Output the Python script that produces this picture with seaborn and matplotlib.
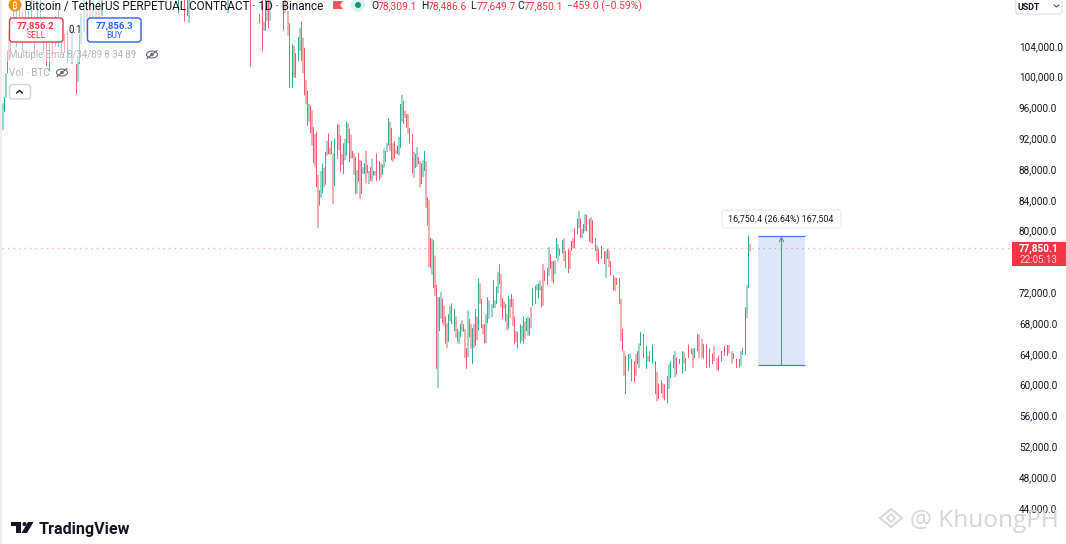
import numpy as np
import pandas as pd
import matplotlib
matplotlib.use("Agg")
import matplotlib.pyplot as plt
import seaborn as sns
from matplotlib.patches import Circle, Ellipse, FancyBboxPatch, Polygon, Rectangle
from matplotlib.lines import Line2D
from matplotlib.transforms import Affine2D, ScaledTranslation

# daily candles, prices in thousands of USDT
days_top = [0, 1, 2, 3, 4, 5, 7, 9, 11, 13,
            15, 17, 19, 21, 23, 25, 27, 29, 31, 33,
            35, 37, 39, 41, 43, 46, 49, 50, 51, 52,
            54, 56, 58, 60, 62, 64, 66, 117, 121, 123,
            124, 150, 165, 171, 173, 174, 175, 176, 177, 178,
            187, 188, 190, 191, 193, 194, 195, 197, 198, 199,
            200, 201, 202]
highs_top = [96.7, 97.5, 100.6, 103.5, 106.1, 108, 110.5, 109, 110.5, 108.5,
             110.5, 109, 110.5, 108, 109.5, 110.5, 108, 106, 104.4, 107,
             108, 109, 105.7, 105.7, 106, 106.4, 101.8, 102.6, 105.7, 108.3,
             110.5, 109.5, 110.5, 110.5, 109, 110.5, 110.5, 110.5, 110.5, 110.5,
             110.5, 110.5, 110.5, 108.3, 110.5, 107.3, 110.5, 110.5, 110.5, 110.5,
             109.4, 110.5, 108.7, 107.1, 104.4, 104.2, 103.2, 105.3, 106.5, 107.3,
             105.2, 103.9, 99.7]
lows_top = [93.2, 95.6, 97.4, 100.6, 102.2, 103.5, 105.5, 104, 106, 103.5,
            105, 104.5, 105.8, 103, 104.8, 106, 103.2, 101.5, 100.9, 103,
            104, 104, 103.2, 103.2, 102, 101.8, 97.9, 99.5, 101.8, 104.4,
            106, 105.5, 106.5, 107, 105, 106.9, 108, 108.4, 107.3, 108,
            107.1, 108.4, 101.4, 107.1, 103.4, 106.1, 106.1, 107.4, 106.4, 107.4,
            106.1, 108.4, 105.5, 98.7, 98.7, 100, 100, 102.2, 103.5, 102.2,
            100.6, 97.7, 96.6]
sides_top = ("uuuudududd" "dudddudddd" "uudduuduuu" "uddudduudu"
             "uuddduuudu" "dddduduuud" "ddd")

skipped_days = [222, 250, 272, 300, 325]
days_mid = [d for d in range(203, 344) if d not in skipped_days]
highs_mid = [98.3, 96.6, 96.4, 95.8, 93.6, 92.7, 93, 87.4, 85.4, 87.9,
             88.9, 88.3, 90.4, 91.8, 92.8, 90.9, 91.8, 90.2, 92.1, 94,
             93.9, 92.5, 90.1, 91.5, 92.1, 94.3, 94.1, 93.4, 92.6, 90.5,
             90.2, 89.7, 88, 90.2, 89.3, 89.2, 88.4, 88.9, 90.5, 88.7,
             87.9, 88.4, 89.5, 87.9, 87.9, 90.2, 89.2, 88.9, 88.7, 90.8,
             90.5, 91.5, 94.7, 94.3, 93.5, 91.5, 91.8, 90.6, 91.2, 92.3,
             96.6, 97.8, 97, 95.7, 95.3, 95.3, 93.5, 92.7, 90.4, 90.1,
             91, 89.7, 89.2, 88.9, 89.3, 90.5, 89.2, 84.5, 84.1, 79.2,
             79.1, 78.9, 76.9, 73.1, 71.5, 71.5, 72.2, 71.3, 70.4, 69,
             68.1, 69.3, 70.4, 70.7, 70, 69, 67.4, 67.1, 68.1, 68.5,
             68, 67.4, 64.9, 69.8, 68.7, 68, 67.5, 68, 70, 69,
             73.9, 73.3, 71.3, 68, 68, 69.3, 71.5, 71.1, 70.6, 73.7,
             71.1, 72.9, 74.8, 75.8, 74.5, 71.4, 71, 70.7, 69.3, 71.7,
             71.3, 71.9, 71.3, 69, 67.1, 67]
lows_mid = [93.8, 94.3, 92.8, 91.2, 88.9, 88.4, 85.8, 80.5, 83.4, 84.4,
            85, 85.8, 86.1, 89.9, 90.1, 90, 90.1, 83.6, 86, 89.5,
            90.6, 87.8, 88.7, 87.5, 89.3, 89.9, 91.5, 89.1, 89.5, 89.6,
            87.4, 84.9, 85, 86.5, 84.3, 84.9, 87.5, 87.5, 86.3, 87.6,
            86.2, 86.6, 86.5, 87.3, 87.3, 86.6, 86.7, 87, 87.4, 88.3,
            89.1, 90.4, 91.2, 90.5, 89.3, 89.1, 89.5, 90.1, 90.1, 89.9,
            90.9, 94.3, 94, 94.8, 93.5, 92.8, 91.5, 87.6, 87, 88.3,
            88.4, 88.8, 85.8, 86.2, 87.1, 87.9, 83.1, 80.8, 75.4, 75.3,
            74.4, 72.7, 71.7, 62.2, 59.7, 67.1, 68.7, 68.1, 67.8, 65.5,
            64.9, 65.7, 68.4, 68, 67.1, 66.3, 65.7, 65.4, 66.3, 67.1,
            67, 63.6, 62.2, 63.7, 66.3, 64.8, 62.8, 64.9, 65.2, 65.9,
            67.2, 70.6, 67.5, 66.7, 65.5, 65.5, 68.1, 68.7, 68.9, 70.1,
            70.1, 70.6, 72, 73.2, 70.2, 68.7, 70.1, 68.4, 67.2, 67.4,
            68.8, 70.2, 67.8, 65.4, 65.7, 64.8]
sides_mid = ("dudduddddu" "uduudddduu" "ddduuududd" "ddudduuudd" "uduuududuu"
             "uuuddddduu" "uudddddduu" "udduuudddd" "uddduuuddd" "duududduud"
             "ddduddudud" "udddduuuuu" "uuuddddddu" "dudddd")

days_end = [345, 346, 347, 348, 349, 350, 351, 352, 353, 355,
            356, 357, 358, 359, 360, 361, 363, 364, 365, 366,
            367, 368, 369, 370, 371, 373, 374, 375, 377, 378,
            379, 380, 381, 383, 384, 385, 386, 387, 388, 389,
            391, 392, 393, 395, 396, 397, 399, 401, 402, 403,
            404, 405, 407, 408, 409,
            411, 412, 413, 414, 415, 417, 418, 419, 421, 422,
            423, 424, 425, 427, 429, 430, 431, 433, 435, 436,
            437, 439, 440, 441, 443, 444, 445, 447, 448, 449,
            451, 453, 454, 455, 457, 459, 460, 461, 463, 464,
            466, 467, 469, 471, 473, 474, 476, 477, 479, 481,
            483, 484, 486, 487, 489, 491, 492, 493, 495, 496,
            497, 498]
highs_end = [68, 67.8, 69, 68.4, 68.8, 69, 68.8, 70.2, 72.7, 73,
             73.2, 73.3, 73.6, 73, 75.8, 75, 75.3, 78, 77.1, 76.2,
             76.2, 76.3, 79.2, 78.4, 77.8, 78.9, 79.2, 77.5, 77.8, 77.6,
             78.8, 79.2, 80.5, 81.7, 82.7, 81.7, 80.4, 81, 82.3, 82.2,
             81.7, 81.9, 81.5, 79.2, 78.2, 77.8, 78.2, 77.5, 77.5, 77.8,
             77.6, 76.2, 74.4, 74.1, 74,
             74, 71.3, 67.4, 64.5, 63.9, 64.1, 64.2, 63.5, 63.2, 64.1,
             64.5, 65.5, 67, 66.7, 65.2, 63.9, 64.5, 65.4, 63.2, 61.8,
             60.3, 60.7, 60.3, 60.2, 61.3, 62.8, 63.2, 64, 64.5, 63.7,
             63.5, 64.5, 64.4, 63.6, 65.4, 64.8, 64.9, 64.9, 66.7, 66.7,
             66.1, 65.4, 65.4, 64.8, 64.2, 65.2, 63.6, 63.9, 64.5, 65.2,
             65.3, 65.3, 64.5, 64.2, 63.5, 63.5, 64.5, 64.9, 70.2, 73.1,
             79.5, 78.4]
lows_end = [65.5, 65.8, 65.5, 66.1, 67.1, 66.5, 66.5, 67.5, 70.4, 70.6,
            72.4, 71.3, 72.4, 70.2, 70.4, 73.6, 73.1, 74.3, 75.2, 73.6,
            73.3, 74.5, 76.6, 76.2, 76.9, 77.2, 76.2, 75.3, 74.6, 75.2,
            77.5, 77.8, 77.9, 79.7, 80.5, 79.2, 79.2, 79.8, 80.1, 80.1,
            78.7, 78.5, 78.5, 77.5, 76.2, 75.8, 76.5, 75.8, 74, 76.5,
            75.4, 74.3, 72.4, 72.3, 73.1,
            70.6, 65.8, 64.5, 61.3, 58.9, 61.9, 63.5, 60.6, 60.5, 61.3,
            62.8, 62.3, 65.2, 63.6, 62.2, 63.2, 63.1, 62.9, 58.9, 58,
            58.3, 59, 58.4, 58.1, 57.7, 59.6, 61, 62.3, 61.1, 61.5,
            62.8, 61.6, 62.9, 61.9, 63.6, 64.1, 62.3, 63.6, 64.5, 63.6,
            63.6, 63.5, 62.3, 62.4, 62.8, 63.2, 62, 62, 63.2, 63.9,
            63.9, 64.2, 62.9, 63.5, 62.3, 62.4, 62.6, 64, 64, 68.8,
            72.7, 77.5]
sides_end = ("uudduuudud" "uuuddduudd" "duuuuudddd" "udduuduuud" "ddddddudud" "ddddd"
             "ddddduuddd" "uuududdudd" "dudduuuuud" "uuddduduud" "ddduddddud"
             "uddudduuuu" "ud")

price_ticks = [44000, 48000, 52000, 56000, 60000, 64000, 68000, 72000,
               80000, 84000, 88000, 92000, 96000, 100000, 104000]
last_price = 77850.1
range_low = 62700
range_high = 79450
range_days = [503.3, 534.7]

green = "#089981"
red = "#F23645"
blue = "#2962FF"
ink = "#131722"

days = days_top + days_mid + days_end
highs = np.array(highs_top + highs_mid + highs_end) * 1000
lows = np.array(lows_top + lows_mid + lows_end) * 1000
sides = list(sides_top + sides_mid + sides_end)

candles = pd.DataFrame({"candle": range(len(days)), "day": days, "side": sides,
                        "high": highs, "low": lows})
candles = candles.melt(id_vars=["candle", "day", "side"], value_vars=["high", "low"],
                       value_name="price")

sns.set_theme(style="white")
plt.rcParams["font.family"] = ["Roboto", "Noto Sans", "DejaVu Sans"]

W, H = 1066, 544
fig = plt.figure(figsize=(W / 100, H / 100), dpi=100)
ax = fig.add_axes([2 / W, 0, 1010 / W, 1])
pix = Affine2D().scale(1 / W, -1 / H).translate(0, 1) + fig.transFigure

sns.lineplot(data=candles, x="day", y="price", hue="side", units="candle", estimator=None,
             palette={"u": green, "d": red}, legend=False, linewidth=0.68, alpha=0.85,
             solid_capstyle="butt", snap=False, ax=ax)

ax.set_xlim(-0.67, 672.67)
ax.set_ylim(104000 + (47 - 544) * 129.87, 104000 + 47 * 129.87)
ax.set_xlabel("")
ax.set_ylabel("")
ax.set_xticks([])
ax.yaxis.tick_right()
ax.set_yticks(price_ticks)
ax.set_yticklabels([f"{p:,.1f}" for p in price_ticks], fontsize=7.2, color=ink,
                   va="center_baseline")
ax.tick_params(axis="y", length=0, pad=5)
for tick_label in ax.get_yticklabels():
    tick_label.set_transform(tick_label.get_transform() + ScaledTranslation(0, 1.2 / 100, fig.dpi_scale_trans))
sns.despine(ax=ax, left=True, right=True, top=True, bottom=True)

# last price line and measured range
ax.axhline(last_price, color=red, alpha=0.4, lw=1, ls=(0, (1, 3)))
ax.fill_between(range_days, range_low, range_high, color="#DDE6FB", lw=0, zorder=1)
ax.hlines([range_low, range_high], range_days[0], range_days[1], color=blue, lw=0.9, alpha=0.85, zorder=3)
ax.annotate("", xy=(np.mean(range_days), range_high), xytext=(np.mean(range_days), range_low),
            arrowprops=dict(arrowstyle="->", color="#5B84F5", lw=0.8, shrinkA=0, shrinkB=0,
                            mutation_scale=8), zorder=3)


def box(x0, y0, x1, y1, face="white", edge="none", lw=1, r=3, alpha=None):
    fig.add_artist(FancyBboxPatch((x0, y0), x1 - x0, y1 - y0, boxstyle=f"round,pad=0,rounding_size={r}",
                                  fc=face, ec=edge, lw=lw, alpha=alpha, transform=pix))


def label(x, y, s, size=7.4, color=ink, ha="left", **kw):
    fig.text(x, y, s, fontsize=size, color=color, ha=ha, va="center_baseline", transform=pix, **kw)


def eye(x, y):
    fig.add_artist(Ellipse((x, y), 11, 7, fc="none", ec="#6A6D78", lw=0.8, transform=pix))
    fig.add_artist(Circle((x, y), 1.8, fc="#6A6D78", ec="none", transform=pix))
    fig.add_artist(Line2D([x - 5, x + 5], [y + 4, y - 4], color="#6A6D78", lw=0.9, transform=pix))


# left strip and faded area behind the legend
fig.add_artist(Rectangle((0, 0), 2, H, fc="#EEEEEE", ec="none", transform=pix))
fig.add_artist(Rectangle((2, 0), 98, 62, fc="white", alpha=0.5, ec="none", transform=pix))

# header
fig.add_artist(Circle((15, 5), 6.5, fc="#F7931A", ec="none", transform=pix))
label(15, 5, "₿", size=7, color="white", ha="center", family=["Noto Sans", "Open Sans", "Roboto", "Lato", "Inter"])
label(25, 5, "Bitcoin / TetherUS PERPETUAL CONTRACT · 1D · Binance", size=8.45)
fig.add_artist(Polygon([(333, 1), (343, 1), (340, 5), (343, 9), (333, 9)], fc="#F7525F", ec="none", transform=pix))
fig.add_artist(Circle((358, 5), 7, fc="#DCEFEC", ec="none", transform=pix))
fig.add_artist(Circle((358, 5), 3, fc=green, ec="none", transform=pix))
for x, letter, value in [(371, "O", "78,309.1"), (421, "H", "78,486.6"),
                         (470, "L", "77,649.7"), (517, "C", "77,850.1")]:
    label(x, 5, letter, size=7.4)
    label(x + 6.5, 5, value, size=7.4, color=red)
label(567, 5, "−459.0 (−0.59%)", size=7.4, color=red)

# sell / buy buttons
box(9.5, 18, 63, 42, edge=red)
label(36, 25, "77,856.2", size=6.8, color=red, ha="center", fontweight="bold")
label(36, 35, "SELL", size=6.2, color=red, ha="center")
box(87.5, 18, 141, 42, edge=blue)
label(114, 25, "77,856.3", size=6.8, color=blue, ha="center", fontweight="bold")
label(114, 35, "BUY", size=6.2, color=blue, ha="center")
label(75, 29, "0.1", size=7, ha="center")

# indicator legend
label(9, 54, "Multiple Ema 8/34/89 8 34 89", size=6.95, color="#B2B5BE")
eye(152, 54.5)
label(9, 72, "Vol · BTC", size=7.2, color="#B2B5BE")
eye(62, 72.5)
box(9.5, 84.5, 30.5, 99, edge="#D1D4DC")
fig.add_artist(Line2D([16.5, 19.5, 22.5], [93, 90.5, 93], color=ink, lw=1, transform=pix))

# range label
box(722, 210, 841, 228, edge="#EFEFF2")
label(781, 218, "16,750.4 (26.64%) 167,504", size=6.4, ha="center")

# price tag and currency
fig.add_artist(Rectangle((1012, 242), 54, 24, fc=red, ec="none", transform=pix))
label(1019, 248, "77,850.1", size=7.2, color="white", fontweight="bold")
label(1019, 259, "22:05:13", size=7, color="#FFD9DC")
box(1015.5, -6, 1062, 14, edge="#E6E8EE")
label(1018, 6, "USDT", size=6.4, fontweight="bold")
fig.add_artist(Line2D([1054, 1056.5, 1059], [5, 7, 5], color="#50535E", lw=0.8, transform=pix))

# TradingView logo
fig.add_artist(Polygon([(11, 522), (21, 522), (21, 533), (16, 533), (16, 526), (11, 526)],
                       fc=ink, ec="none", transform=pix))
fig.add_artist(Circle((24.5, 524), 2, fc=ink, ec="none", transform=pix))
fig.add_artist(Polygon([(28, 522), (33.5, 522), (27, 533), (21.5, 533)], fc=ink, ec="none", transform=pix))
label(39, 528, "TradingView", size=11.6, fontweight="bold")

# watermark, the 44,000.0 tick sits on top of it in the reference too
label(910, 518, "@ KhuongPH", size=17.6, color="#D6D6D6", family="Open Sans")
fig.add_artist(Polygon([(891, 509), (902, 518), (891, 527), (880, 518)], fc="none", ec="#DADADA", lw=1.6, transform=pix))
fig.add_artist(Polygon([(891, 514), (895, 518), (891, 522), (887, 518)], fc="none", ec="#DADADA", lw=1.4, transform=pix))

fig.savefig("out.png", dpi=100)
